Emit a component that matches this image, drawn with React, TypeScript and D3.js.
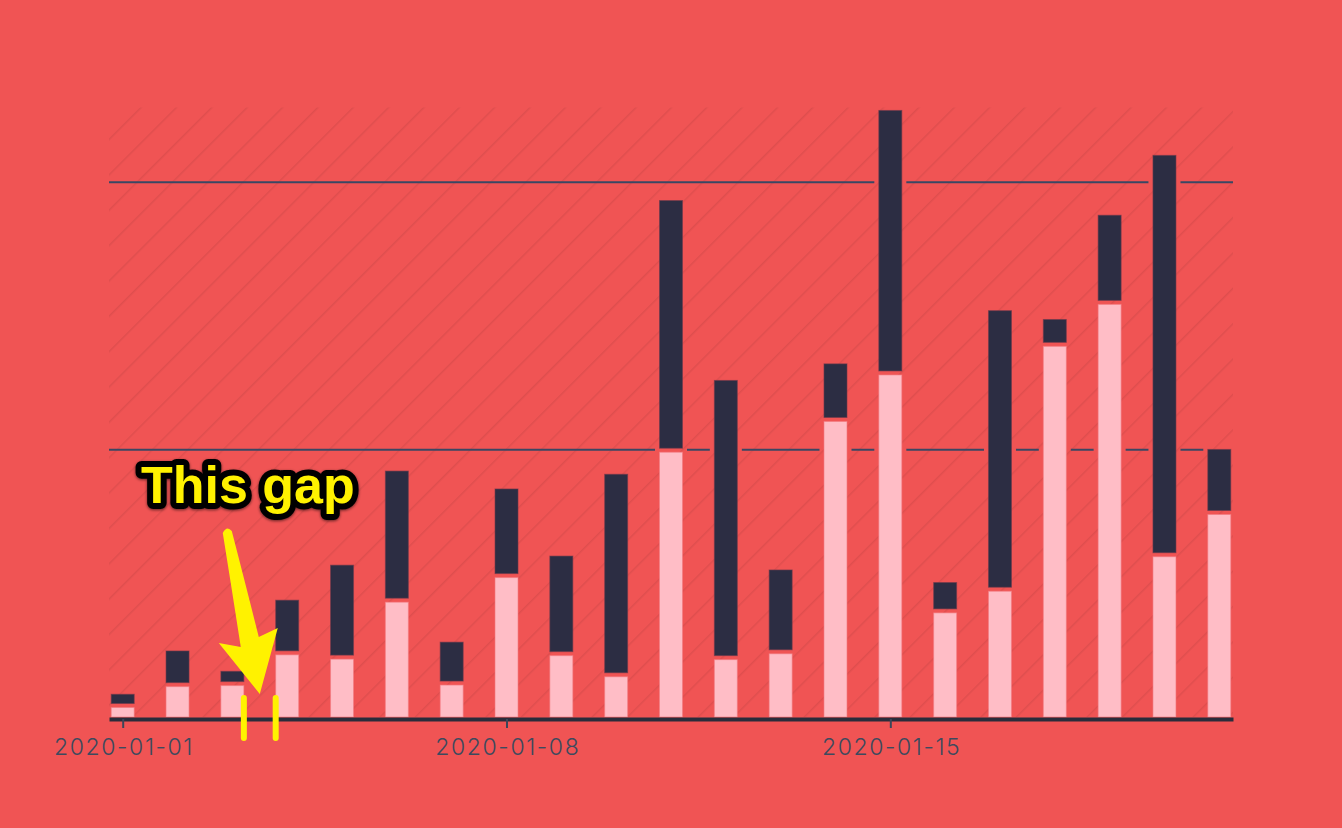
import React, { useEffect, useRef } from 'react';
import * as d3 from 'd3';

// daily values
const dates = d3.timeDay.range(new Date(2020, 0, 1), new Date(2020, 0, 22));
const lowerValues = [0.43, 1.21, 1.25, 2.4, 2.24, 4.37, 1.27, 5.29, 2.37, 1.58, 9.98, 2.22, 2.44, 11.13, 12.87, 3.97, 4.78, 13.94, 15.51, 6.07, 7.65];
const upperValues = [0.42, 1.26, 0.46, 1.97, 3.44, 4.83, 1.53, 3.24, 3.65, 7.5, 9.34, 10.37, 3.06, 2.08, 9.82, 1.06, 10.42, 0.93, 3.26, 14.94, 2.36];
const gridValues = [10, 20];
const yMax = 22.8;
const annotationText = 'This gap';
const gapAfterIndex = 2; // the gap between the 3rd and 4th bars

const W = 1342;
const H = 828;
const BG = '#f05454';
const PINK = '#ffbdc6';
const DARK = '#2c2d43';
const YELLOW = '#fff200';

export default function App() {
  const ref = useRef<SVGSVGElement>(null);

  useEffect(() => {
    const svg = d3.select(ref.current);
    svg.selectAll('*').remove();

    const left = 109, right = 1233, top = 107.5, base = 717;
    const barW = 23;

    const x = d3.scaleTime()
      .domain([d3.timeHour.offset(dates[0], -6), d3.timeHour.offset(dates[dates.length - 1], 6)])
      .range([left, right]);
    const y = d3.scaleLinear().domain([0, yMax]).range([base, top]);

    const rows = dates.map((d, i) => ({ date: d, lower: lowerValues[i], upper: upperValues[i] }));
    const stack = d3.stack<any>().keys(['lower', 'upper'])(rows);

    const defs = svg.append('defs');
    const pat = defs.append('pattern')
      .attr('id', 'hatch')
      .attr('patternUnits', 'userSpaceOnUse')
      .attr('width', 25)
      .attr('height', 25)
      .attr('patternTransform', 'rotate(45)');
    pat.append('line')
      .attr('x1', 0).attr('y1', 0).attr('x2', 0).attr('y2', 25)
      .attr('stroke', '#000')
      .attr('stroke-opacity', 0.07)
      .attr('stroke-width', 3);

    // mask so grid lines stop short of the bars
    const mask = defs.append('mask').attr('id', 'gridMask').attr('maskUnits', 'userSpaceOnUse');
    mask.append('rect').attr('width', W).attr('height', H).attr('fill', '#fff');
    mask.selectAll('rect.cut')
      .data(rows)
      .enter()
      .append('rect')
      .attr('class', 'cut')
      .attr('x', d => x(d.date) - barW / 2 - 4.5)
      .attr('width', barW + 9)
      .attr('y', d => y(d.lower + d.upper) - 4)
      .attr('height', d => base - y(d.lower + d.upper) + 4)
      .attr('fill', '#000');

    svg.append('rect').attr('width', W).attr('height', H).attr('fill', BG);

    svg.append('rect')
      .attr('x', left).attr('y', top)
      .attr('width', right - left).attr('height', base - top)
      .attr('fill', 'url(#hatch)');

    // grid
    svg.append('g')
      .attr('mask', 'url(#gridMask)')
      .selectAll('line')
      .data(gridValues)
      .enter()
      .append('line')
      .attr('x1', left).attr('x2', right)
      .attr('y1', d => y(d)).attr('y2', d => y(d))
      .attr('stroke', '#3a4763')
      .attr('stroke-width', 2);

    // bars
    const colors = [PINK, DARK];
    stack.forEach((layer, li) => {
      svg.append('g')
        .selectAll('rect')
        .data(layer)
        .enter()
        .append('rect')
        .attr('x', (d: any) => x(d.data.date) - barW / 2)
        .attr('width', barW)
        .attr('y', (d: any) => y(d[1]) + (li === 0 ? 2 : 0))
        .attr('height', (d: any) => Math.max(0, y(d[0]) - y(d[1]) - 2))
        .attr('fill', colors[li])
        .attr('stroke', li === 0 ? '#f27a80' : '#6b3a4c')
        .attr('stroke-opacity', 0.6)
        .attr('stroke-width', 1);
    });

    // x axis
    const axis = d3.axisBottom(x)
      .ticks(d3.timeDay.every(7))
      .tickFormat(d3.timeFormat('%Y-%m-%d') as any)
      .tickSize(9)
      .tickSizeOuter(0);
    const ax = svg.append('g')
      .attr('transform', `translate(0,${base + 2})`)
      .call(axis);
    ax.select('.domain').attr('stroke', '#2a2c3b').attr('stroke-width', 4);
    ax.selectAll('.tick line').attr('stroke', '#3b4659').attr('stroke-width', 2);
    ax.selectAll('.tick text')
      .attr('x', 0.8)
      .attr('y', 35.5)
      .attr('dy', 0)
      .attr('fill', '#3d4a5e')
      .style('font-family', 'Inter, "Noto Sans", sans-serif')
      .style('font-weight', 300)
      .style('font-size', '23px')
      .style('letter-spacing', '1.6px');

    // annotation: markers at the bar edges
    const gx1 = x(dates[gapAfterIndex]) + barW / 2;
    const gx2 = x(dates[gapAfterIndex + 1]) - barW / 2;
    svg.append('g')
      .selectAll('line')
      .data([gx1, gx2])
      .enter()
      .append('line')
      .attr('x1', d => d).attr('x2', d => d)
      .attr('y1', base - 19).attr('y2', base + 21)
      .attr('stroke', YELLOW)
      .attr('stroke-width', 6)
      .attr('stroke-linecap', 'round');

    // arrow pointing into the gap
    const tx = (gx1 + gx2) / 2, ty = base - 23;
    const p = d3.path();
    p.moveTo(tx - 37, ty - 161);
    p.quadraticCurveTo(tx - 33, ty - 169, tx - 28, ty - 163);
    p.quadraticCurveTo(tx - 13, ty - 105, tx - 1, ty - 57);
    p.lineTo(tx + 18, ty - 66);
    p.lineTo(tx, ty);
    p.lineTo(tx - 41, ty - 51);
    p.lineTo(tx - 19, ty - 47);
    p.quadraticCurveTo(tx - 28, ty - 105, tx - 37, ty - 161);
    p.closePath();
    svg.append('path').attr('d', p.toString()).attr('fill', YELLOW);

    const shadow = defs.append('filter').attr('id', 'soft').attr('x', '-10%').attr('y', '-20%').attr('width', '120%').attr('height', '140%');
    shadow.append('feDropShadow').attr('dx', 0).attr('dy', 1).attr('stdDeviation', 1.5).attr('flood-color', '#000').attr('flood-opacity', 0.6);

    svg.append('text')
      .attr('x', 141)
      .attr('y', 503)
      .attr('fill', YELLOW)
      .attr('stroke', '#000')
      .attr('stroke-width', 12)
      .attr('stroke-linejoin', 'round')
      .attr('paint-order', 'stroke')
      .attr('filter', 'url(#soft)')
      .style('font-family', '"Liberation Sans", Arial, sans-serif')
      .style('font-weight', 700)
      .style('font-size', '52px')
      .text(annotationText);
  }, []);

  return (
    <svg
      ref={ref}
      width={W}
      height={H}
      viewBox={`0 0 ${W} ${H}`}
      style={{ position: 'absolute', left: 0, top: 0, display: 'block' }}
    />
  );
}
